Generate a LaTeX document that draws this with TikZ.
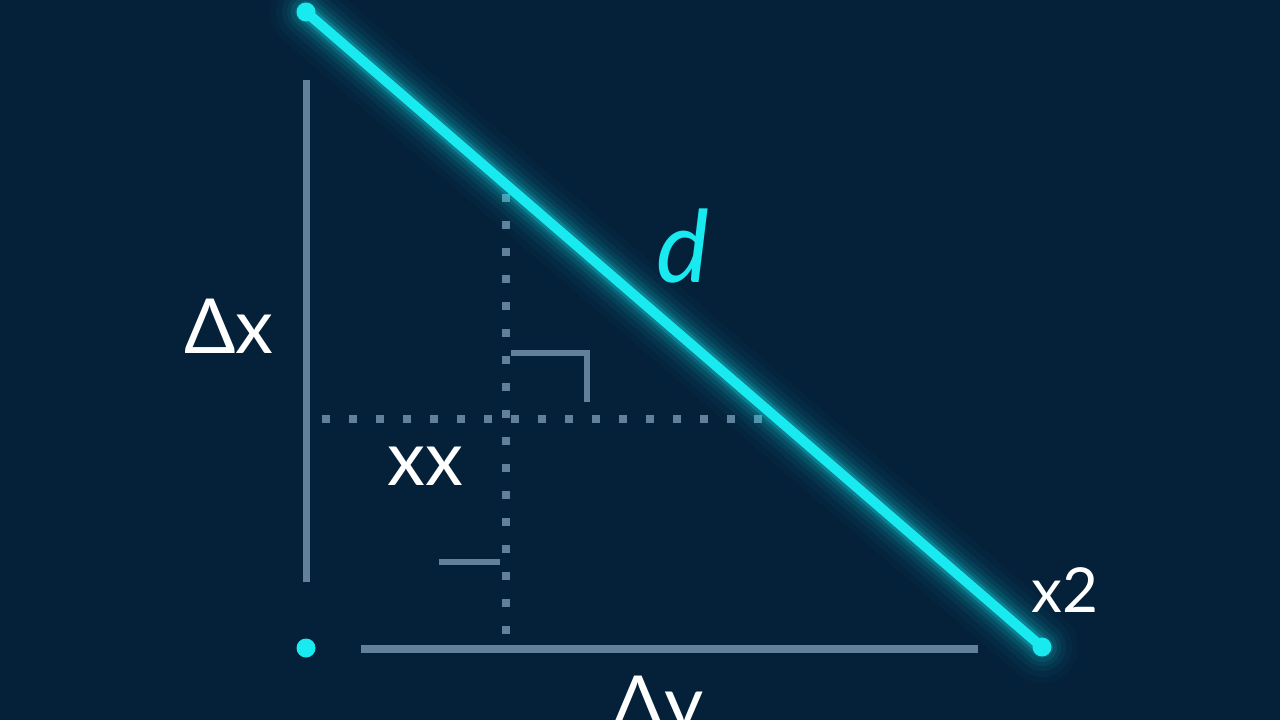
\documentclass[tikz,border=0pt]{standalone}
\usepackage{fontspec}
\setmainfont{Lato}
\definecolor{bg}{HTML}{05213A}
\definecolor{neon}{HTML}{18EAF0}
\definecolor{guide}{HTML}{62809A}
\begin{document}
\begin{tikzpicture}[x=0.5pt,y=-0.5pt, guide/.style={draw=guide,line width=3.5pt}, dotline/.style={draw=guide,line width=4pt,dash pattern=on 4pt off 9.5pt}, lbl/.style={text=white,inner sep=0,anchor=base,font=\fontsize{38}{38}\selectfont}, tip/.style={circle,fill=neon,minimum size=9.5pt,inner sep=0}]
\fill[bg] (0,0) rectangle (1280,720);
\useasboundingbox (0,0) rectangle (1280,720);
\clip (0,0) rectangle (1280,720);
% guides
\draw[guide] (306,80) -- (306,582);
\draw[guide,line width=4pt] (361,649) -- (978,649);
\draw[dotline] (506,194) -- (506,640);
\draw[dotline] (322,419) -- (772,419);
\draw[guide,line width=3pt] (511,353) -| (587,402);
\draw[guide,line width=3pt] (439,562) -- (500,562);
% end points
\node(a)[tip] at (306,12) {};
\node(b)[tip] at (1042,647) {};
\node(c)[tip] at (306,648) {};
\foreach \w/\o in {36/0.025,30/0.035,24/0.05,19/0.07,15/0.09,11/0.13,8/0.22}
	\draw[neon,opacity=\o,line width=\w pt,line cap=round] (a.center) -- (b.center);
\draw[neon,line width=5pt,line cap=round] (a.center) -- (b.center);
% labels
\node[lbl] at (229,353) {Δx};
\node[lbl] at (425,485) {xx};
\node[lbl,text=neon,font=\fontsize{50}{50}\selectfont\itshape] at (683,282) {d};
\node[lbl,font=\fontsize{31}{31}\selectfont] at (1065,612) {x2};
\node[lbl] at (658,730) {Δy};
\end{tikzpicture}
\end{document}
